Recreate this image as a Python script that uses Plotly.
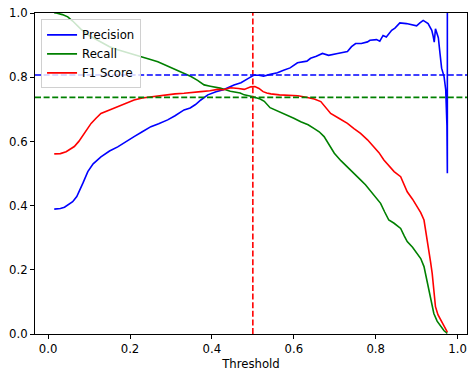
import plotly.graph_objects as go

# ---- data ----
prec_thr = [0.015, 0.030, 0.040, 0.050, 0.060, 0.070, 0.076, 0.085, 0.097, 0.110,
            0.129, 0.150, 0.170, 0.190, 0.210, 0.230, 0.251, 0.270, 0.292, 0.310,
            0.332, 0.347, 0.360, 0.373, 0.390, 0.410, 0.428, 0.454, 0.471, 0.490,
            0.503, 0.515, 0.526, 0.540, 0.560, 0.575, 0.591, 0.609, 0.632, 0.641,
            0.655, 0.670, 0.685, 0.707, 0.720, 0.731, 0.741, 0.751, 0.765, 0.780,
            0.786, 0.802, 0.810, 0.818, 0.826, 0.839, 0.847, 0.859, 0.875, 0.890,
            0.900, 0.908, 0.916, 0.928, 0.937, 0.940, 0.943, 0.946, 0.953, 0.957,
            0.961, 0.967, 0.971, 0.974, 0.975, 0.975]
precision = [0.389, 0.391, 0.395, 0.403, 0.412, 0.428, 0.443, 0.470, 0.506, 0.530,
             0.552, 0.570, 0.583, 0.600, 0.615, 0.630, 0.646, 0.655, 0.667, 0.680,
             0.698, 0.704, 0.715, 0.729, 0.745, 0.755, 0.761, 0.776, 0.783, 0.797,
             0.807, 0.806, 0.803, 0.808, 0.814, 0.822, 0.829, 0.845, 0.850, 0.859,
             0.865, 0.874, 0.868, 0.874, 0.876, 0.880, 0.895, 0.905, 0.905, 0.910,
             0.915, 0.917, 0.912, 0.930, 0.925, 0.946, 0.953, 0.969, 0.967, 0.963,
             0.960, 0.969, 0.977, 0.967, 0.946, 0.930, 0.909, 0.951, 0.923, 0.875,
             0.828, 0.802, 0.761, 0.650, 0.501, 1.000]

rec_thr = [0.015, 0.020, 0.035, 0.048, 0.060, 0.080, 0.100, 0.119, 0.150, 0.168,
           0.200, 0.227, 0.250, 0.268, 0.290, 0.316, 0.335, 0.349, 0.365, 0.381,
           0.396, 0.420, 0.445, 0.469, 0.479, 0.498, 0.518, 0.528, 0.542, 0.560,
           0.585, 0.600, 0.617, 0.635, 0.650, 0.662, 0.674, 0.686, 0.699, 0.715,
           0.731, 0.747, 0.763, 0.775, 0.788, 0.800, 0.812, 0.822, 0.832, 0.845,
           0.861, 0.870, 0.877, 0.890, 0.902, 0.910, 0.918, 0.924, 0.930, 0.936,
           0.942, 0.950, 0.959, 0.967, 0.975]
recall = [1.000, 1.000, 0.995, 0.988, 0.975, 0.950, 0.930, 0.917, 0.895, 0.886,
          0.873, 0.862, 0.855, 0.848, 0.835, 0.822, 0.810, 0.802, 0.790, 0.776,
          0.772, 0.766, 0.756, 0.751, 0.745, 0.740, 0.732, 0.725, 0.705, 0.695,
          0.682, 0.672, 0.661, 0.652, 0.640, 0.630, 0.615, 0.590, 0.563, 0.540,
          0.521, 0.500, 0.480, 0.465, 0.445, 0.428, 0.407, 0.380, 0.355, 0.345,
          0.329, 0.305, 0.288, 0.270, 0.251, 0.235, 0.210, 0.175, 0.137, 0.100,
          0.064, 0.040, 0.023, 0.010, 0.002]

f1_thr = [0.015, 0.030, 0.044, 0.054, 0.064, 0.075, 0.089, 0.105, 0.117, 0.129,
          0.150, 0.170, 0.190, 0.210, 0.230, 0.251, 0.270, 0.292, 0.310, 0.332,
          0.347, 0.373, 0.395, 0.414, 0.428, 0.446, 0.465, 0.479, 0.495, 0.505,
          0.515, 0.525, 0.534, 0.544, 0.565, 0.591, 0.610, 0.633, 0.650, 0.666,
          0.678, 0.690, 0.710, 0.731, 0.747, 0.763, 0.780, 0.796, 0.808, 0.820,
          0.833, 0.845, 0.861, 0.868, 0.877, 0.890, 0.902, 0.910, 0.918, 0.924,
          0.930, 0.934, 0.938, 0.942, 0.946, 0.952, 0.959, 0.967, 0.975]
f1_score = [0.561, 0.562, 0.568, 0.575, 0.584, 0.600, 0.625, 0.656, 0.672, 0.687,
            0.698, 0.708, 0.718, 0.729, 0.735, 0.739, 0.741, 0.745, 0.748, 0.750,
            0.751, 0.755, 0.758, 0.762, 0.761, 0.767, 0.765, 0.762, 0.770, 0.771,
            0.765, 0.755, 0.751, 0.748, 0.745, 0.744, 0.742, 0.737, 0.732, 0.724,
            0.705, 0.687, 0.672, 0.656, 0.640, 0.625, 0.605, 0.584, 0.565, 0.542,
            0.522, 0.506, 0.490, 0.470, 0.443, 0.420, 0.397, 0.378, 0.355, 0.310,
            0.262, 0.225, 0.189, 0.140, 0.085, 0.060, 0.044, 0.025, 0.006]

best_threshold = 0.5
precision_at_best = 0.807
recall_at_best = 0.737

x_ticks = [0.0, 0.2, 0.4, 0.6, 0.8, 1.0]
y_ticks = [0.0, 0.2, 0.4, 0.6, 0.8, 1.0]

FONT = "DejaVu Sans"
FS = 11.7

fig = go.Figure()
fig.add_trace(go.Scatter(x=prec_thr, y=precision, mode="lines", name="Precision",
                         line=dict(color="blue", width=1.6)))
fig.add_trace(go.Scatter(x=rec_thr, y=recall, mode="lines", name="Recall",
                         line=dict(color="green", width=1.6)))
fig.add_trace(go.Scatter(x=f1_thr, y=f1_score, mode="lines", name="F1 Score",
                         line=dict(color="red", width=1.6)))

dash = "6px,2.6px"
fig.add_vline(x=best_threshold, line=dict(color="red", width=1.6, dash=dash))
fig.add_hline(y=precision_at_best, line=dict(color="blue", width=1.6, dash=dash))
fig.add_hline(y=recall_at_best, line=dict(color="green", width=1.6, dash=dash))

axis_common = dict(showgrid=False, zeroline=False, showline=True, mirror=True,
                   linecolor="black", linewidth=1, ticks="outside", ticklen=4,
                   tickwidth=1, tickcolor="black", ticklabeloverflow="allow",
                   tickfont=dict(family=FONT, size=FS, color="black"))

fig.update_xaxes(range=[-0.032, 1.023], tickvals=x_ticks,
                 ticktext=[f"{v:.1f}" for v in x_ticks],
                 title=dict(text="Threshold", font=dict(family=FONT, size=FS, color="black"),
                            standoff=4),
                 **axis_common)
fig.update_yaxes(range=[0, 1], tickvals=y_ticks,
                 ticktext=[f"{v:.1f}" for v in y_ticks], **axis_common)

fig.update_layout(
    width=474, height=380,
    margin=dict(l=35, r=7, t=13, b=46, autoexpand=False),
    plot_bgcolor="white", paper_bgcolor="white",
    font=dict(family=FONT, size=FS, color="black"),
    showlegend=True,
    legend=dict(x=0.014, y=0.98, xanchor="left", yanchor="top",
                bgcolor="rgba(255,255,255,0.8)", bordercolor="#d0d0d0", borderwidth=1,
                font=dict(family=FONT, size=FS, color="black"),
                tracegroupgap=0, itemwidth=30),
)

# remove the browser's default 8px body margin so the figure fills the window
fig.write_html("out.html", config={"displayModeBar": False},
               post_script="document.body.style.margin='0';")
